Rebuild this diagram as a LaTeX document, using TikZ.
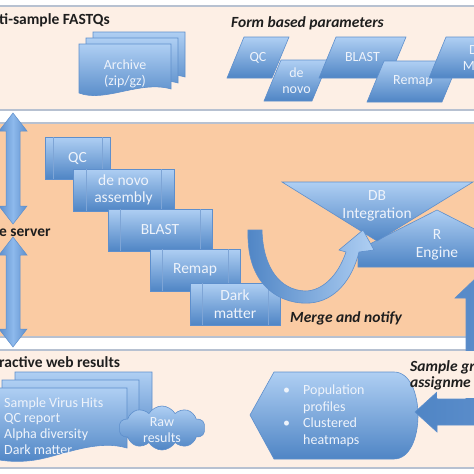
\documentclass[tikz,border=0pt]{standalone}
\usepackage{fontspec}
\setmainfont{Carlito}
\usetikzlibrary{shapes.symbols}
\definecolor{lightpeach}{HTML}{FDEFE5}
\definecolor{peach}{HTML}{FACBA3}
\definecolor{panelline}{HTML}{B7C1D1}
\definecolor{blueA}{HTML}{AFCFF3}
\definecolor{blueB}{HTML}{4F85C5}
\definecolor{blueC}{HTML}{5E8FCC}
\definecolor{blueD}{HTML}{8DB9EC}
\definecolor{titlecol}{HTML}{1E1E1E}
\definecolor{textcol}{HTML}{EEF3FB}
\tikzset{
    panel/.style={draw=panelline, line width=1.1pt},
    blueshape/.style={top color=blueA, bottom color=blueB, draw=blueC, line width=0.6pt},
    stepline/.style={draw=blueC!80!white, line width=0.6pt},
    shapetext/.style={text=textcol, font=\fontsize{14}{16.5}\selectfont, align=center, inner sep=0pt},
    bigtext/.style={shapetext, font=\fontsize{15.5}{17.5}\selectfont},
    heading/.style={font=\bfseries\fontsize{15.5}{17}\selectfont, text=titlecol, inner sep=0pt, anchor=west},
    headingit/.style={font=\bfseries\itshape\fontsize{15.5}{16}\selectfont, text=titlecol, inner sep=0pt, anchor=west, align=left},
    vertarrow/.style={left color=blueC, right color=blueC, middle color=blueD, draw=blueC, line width=0.5pt},
  }

\begin{document}
\begin{tikzpicture}[x=1pt,y=-1pt]
  \useasboundingbox (0,0) rectangle (474,474);
  \fill[white] (0,0) rectangle (474,474);
  %panels
  \draw[panel, fill=lightpeach] (-3,6) rectangle (480,110);
  \draw[panel, fill=peach] (-3,123) rectangle (480,337);
  \draw[panel, fill=lightpeach] (-3,350) rectangle (480,468);
  %headings
  \node[heading] (fastq) at (-1,20) {ti-sample FASTQs};
  \node[headingit] (form) at (231,23) {Form based parameters};
  \node[heading] (server) at (-1,233) {e server};
  \node[heading] (web) at (-1,362) {ractive web results};
  %archive stack
  \foreach \dx/\dy in {14/-12, 7/-6, 0/0}{
    \begin{scope}[shift={(\dx,\dy)}]
      \path[blueshape] (79,44) -- (171,44) -- (171,89) .. controls (140,80) and (105,103) .. (79,93) -- cycle;
    \end{scope}
  }
  \node[shapetext] (archive) at (125,74) {Archive\\(zip/gz)};
  %form parameters
  \foreach \xl/\yt/\w/\nm/\txt in {227/37/45/pqc/QC, 264/60/48/pdenovo/{de\\novo}, 319/37/70/pblast/BLAST, 367/61/75/premap/Remap, 429/37/90/pdark/{Dark\\Matter}}{
    \path[blueshape] (\xl,\yt+41) -- (\xl+17,\yt) -- (\xl+17+\w,\yt) -- (\xl+\w,\yt+41) -- cycle;
    \node[shapetext] (\nm) at (\xl+8.5+\w/2,\yt+20.5) {\txt};
  }
  %server arrows
  \path[vertarrow] (13,113) -- (27,131) -- (20,131) -- (20,206) -- (27,206) -- (13,224)
    -- (-1,206) -- (6,206) -- (6,131) -- (-1,131) -- cycle;
  \path[vertarrow] (13,237) -- (27,255) -- (20,255) -- (20,329) -- (27,329) -- (13,347)
    -- (-1,329) -- (6,329) -- (6,255) -- (-1,255) -- cycle;
  %pipeline steps
  \foreach \xa/\ya/\xb/\yb/\ins/\nm/\txt in {45/137/110/179/8/qc/QC, 73/169/174/211/13/denovo/{de novo\\assembly}, 108/209/212/251/12/blast/BLAST, 150/249/240/291/12/remap/Remap, 190/283/280/325/12/dark/{Dark\\matter}}{
    \path[blueshape] (\xa,\ya) rectangle (\xb,\yb);
    \draw[stepline] (\xa+\ins,\ya) -- (\xa+\ins,\yb) (\xb-\ins,\ya) -- (\xb-\ins,\yb);
    \node[bigtext] (\nm) at ({(\xa+\xb)/2},{(\ya+\yb)/2}) {\txt};
  }
  %R engine and DB integration
  \path[blueshape] (358,267) -- (358,250) -- (437,210) -- (516,250) -- (516,267) -- cycle;
  \node[bigtext] (rengine) at (437,245) {R\\Engine};
  \path[blueshape] (282,182) -- (473,182) -- (377,241) -- cycle;
  \node[bigtext] (dbint) at (377,206) {DB\\Integration};
  %merge arrow
  \path[left color=blueB, right color=blueA, draw=blueC, line width=0.6pt]
    (248,230) .. controls (246,290) and (285,305) .. (310,303)
    .. controls (335,301) and (352,280) .. (359,252)
    -- (374,250) -- (363,230) -- (339,250) -- (346,252)
    .. controls (338,276) and (322,291) .. (305,291)
    .. controls (280,290) and (263,268) .. (262,230) -- cycle;
  \node[headingit] (merge) at (290,318) {Merge and notify};
  %population profiles
  \path[blueshape] (250,415) -- (274,372) -- (394,372) .. controls (426,372) and (426,459) .. (394,459)
    -- (274,459) -- cycle;
  \node[shapetext, align=left, anchor=west] (popul) at (283,416)
    {\makebox[20pt][l]{\textbullet}Population\\\hspace*{20pt}profiles\\\makebox[20pt][l]{\textbullet}Clustered\\\hspace*{20pt}heatmaps};
  %sample group arrow
  \path[left color=blueB, right color=blueC, draw=blueC, line width=0.6pt]
    (478,276) -- (501,298) -- (490,298) -- (490,425) -- (437,425) -- (437,432) -- (415,412)
    -- (437,392) -- (437,399) -- (466,399) -- (466,298) -- (455,298) -- cycle;
  \fill[lightpeach] (437,351) rectangle (480,398);
  \node[headingit] (groups) at (410,375) {Sample gr\\assignme};
  %web results
  \foreach \dx/\dy in {25/-16, 12/-8, 0/0}{
    \begin{scope}[shift={(\dx,\dy)}]
      \path[blueshape] (-10,388) -- (127,388) -- (127,448) .. controls (100,440) and (70,452) .. (45,458)
        .. controls (25,463) and (5,462) .. (-10,458) -- cycle;
    \end{scope}
  }
  \node[shapetext, align=left, anchor=west, font=\fontsize{14}{15.7}\selectfont] (hits) at (4,426)
    {Sample Virus Hits\\QC report\\Alpha diversity\\Dark matter};
  \node[cloud, cloud puffs=10, cloud puff arc=120, aspect=2, minimum width=86pt, minimum height=44pt,
    inner sep=0pt, blueshape] (raw) at (162,428) {};
  \node[shapetext] (rawtext) at (162,430) {Raw\\results};
\end{tikzpicture}
\end{document}
